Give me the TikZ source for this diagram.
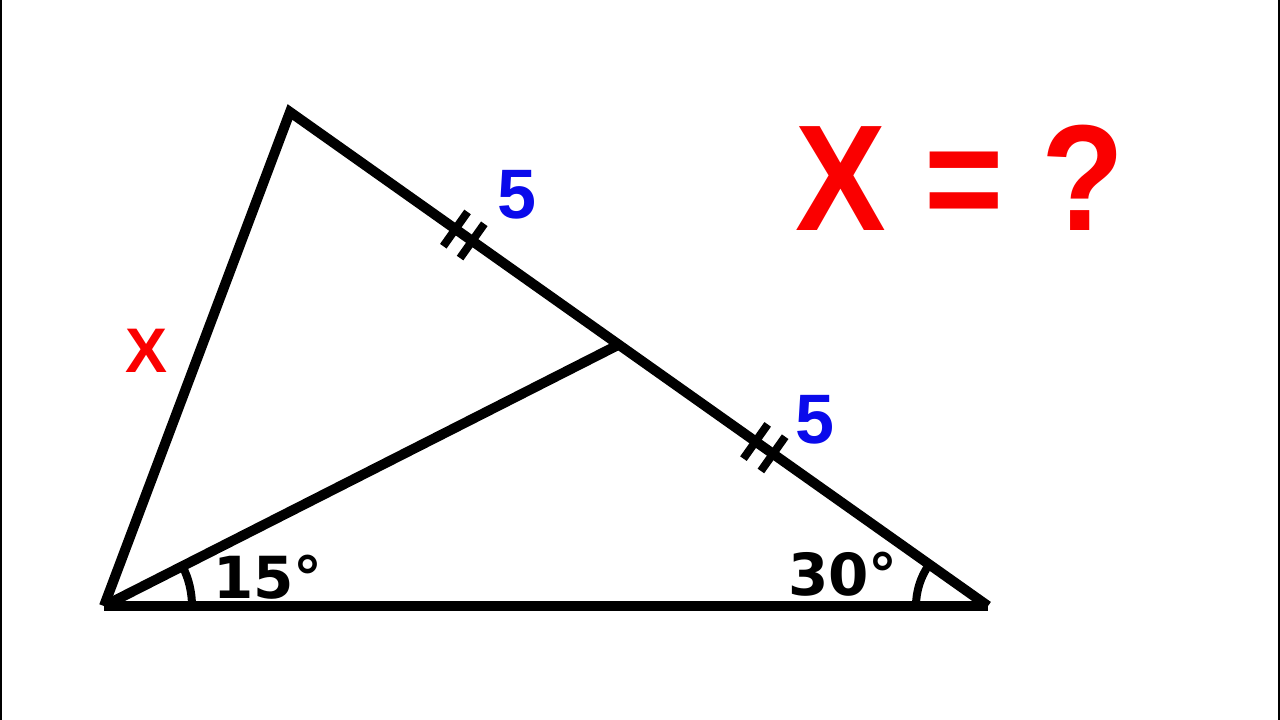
\documentclass[tikz,border=0pt]{standalone}
\usepackage{fontspec}
\setmainfont{Liberation Sans}
\newfontfamily\djv{DejaVu Sans}
\usetikzlibrary{calc,angles}
\definecolor{xred}{RGB}{250,0,0}
\definecolor{fblue}{RGB}{10,10,235}
\tikzset{
  side/.style={line width=10pt, line cap=butt},
  tick/.style={line width=8pt},
  angarc/.style={line width=8pt},
  deg/.style={font=\djv\bfseries\fontsize{58}{58}\selectfont, inner sep=0pt, anchor=base},
  five/.style={text=fblue, font=\bfseries\fontsize{70}{70}\selectfont, inner sep=0pt, anchor=base},
}
\begin{document}
\begin{tikzpicture}[x=1pt,y=-1pt]
\useasboundingbox (0,0) rectangle (1280,720);
\fill[white] (0,0) rectangle (1280,720);
\draw[line width=2pt] (1,0) -- (1,720);
\draw[line width=2pt] (1279,0) -- (1279,720);
\coordinate (A) at (104,606);
\coordinate (B) at (290,112);
\coordinate (C) at (988,606);
\coordinate (M) at ($(B)!0.471!(C)$);
\draw[side, line join=miter] (A) -- (B) -- (C);
\draw[side] (A) -- (C);
\draw[side] (A) -- (M);
% ticks
\coordinate (t1) at ($(B)!0.237!(C)$);
\coordinate (t2) at ($(B)!0.261!(C)$);
\coordinate (t3) at ($(B)!0.667!(C)$);
\coordinate (t4) at ($(B)!0.692!(C)$);
\foreach \t in {t1,t2,t3,t4}{
  \draw[tick] ($(\t)!21pt!90:(C)$) -- ($(\t)!21pt!-90:(C)$);
}
% angles
\pic[draw, angarc, angle radius=88pt] {angle = C--A--M};
\pic[draw, angarc, angle radius=72pt] {angle = B--C--A};
% labels
\node[deg] (l15) at (268,598) {15°};
\node[deg] (l30) at (843,595) {30°};
\node[five] (f1) at (517,218) {5};
\node[five] (f2) at (815,443) {5};
\node[text=xred, font=\bfseries\fontsize{63}{63}\selectfont, inner sep=0pt, anchor=base] (x) at (147,372) {X};
\node[text=xred, font=\bfseries\fontsize{151}{151}\selectfont, inner sep=0pt, anchor=base, xscale=0.9] (q) at (960,230) {X = ?};
\end{tikzpicture}
\end{document}
